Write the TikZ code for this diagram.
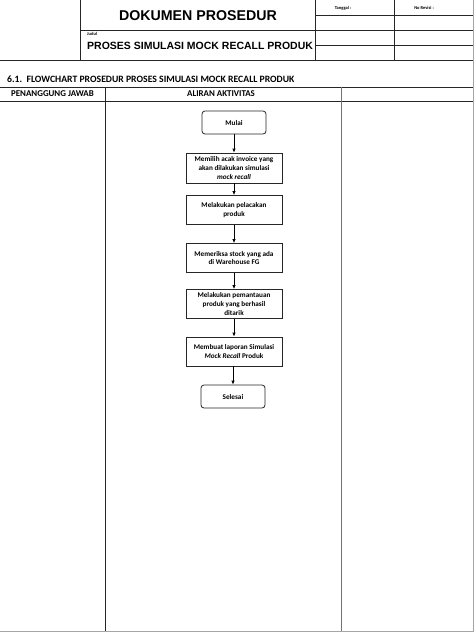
\documentclass[tikz,border=0pt]{standalone}
\usepackage{fontspec}
\setmainfont{Carlito}[BoldFont={Carlito Bold},ItalicFont={Carlito Italic},BoldItalicFont={Carlito Bold Italic}]
\newfontfamily\arialf{Liberation Sans}[BoldFont={Liberation Sans Bold}]
\usetikzlibrary{arrows.meta}
\begin{document}
\begin{tikzpicture}[x=1pt,y=-1pt,
  grid/.style={draw=black!85,line width=0.8pt},
  lightgrid/.style={draw=black!35,line width=1pt},
  proc/.style={draw=black!85,line width=0.8pt,minimum width=96pt,minimum height=29pt,align=center,font=\fontsize{7.2}{8.8}\selectfont\bfseries,inner sep=1pt},
  term/.style={draw=black!85,line width=0.8pt,rounded corners=3pt,minimum width=64pt,minimum height=23pt,align=center,font=\fontsize{7.2}{8}\selectfont\bfseries},
  flow/.style={draw=black,line width=0.8pt,-{Latex[length=4pt,width=3.5pt]}},
  small/.style={font=\fontsize{4.5}{5}\selectfont\bfseries},
  colhead/.style={font=\fontsize{8.9}{10}\selectfont\bfseries}]
\useasboundingbox (0,0) rectangle (474,632);
\fill[white] (0,0) rectangle (474,632);
% header
\draw[grid] (80,0) -- (80,60);
\draw[grid] (315,0) -- (315,60);
\draw[grid] (394,0) -- (394,60);
\draw[grid] (0,60) -- (474,60);
\draw[grid] (80,30) -- (315,30);
\draw[grid] (315,15) -- (474,15);
\draw[grid] (315,30) -- (474,30);
\draw[grid] (315,45) -- (474,45);
\node (t1) at (198,16) {\arialf\fontsize{14.2}{17}\selectfont\bfseries DOKUMEN PROSEDUR};
\node[small,anchor=west,inner sep=0pt] (jd) at (87,34) {Judul};
\node[anchor=west,inner sep=0pt] (t2) at (87,46) {\arialf\fontsize{10.5}{13}\selectfont\bfseries PROSES SIMULASI MOCK RECALL PRODUK};
\node[small] (tg) at (343,8) {Tanggal :};
\node[small] (nr) at (424,8) {No Revisi :};
% section title
\node[anchor=west,inner sep=0pt,font=\fontsize{9.7}{11}\selectfont\bfseries] (sec) at (7,79) {6.1.\ \ FLOWCHART PROSEDUR PROSES SIMULASI MOCK RECALL PRODUK};
% table
\draw[grid] (0,87) -- (474,87);
\draw[grid] (0,101) -- (474,101);
\draw[grid] (105,87) -- (105,632);
\draw[draw=black!55,line width=0.8pt] (341,87) -- (341,632);
\draw[lightgrid] (473,0) -- (473,632);
\draw[lightgrid] (0,631) -- (474,631);
\node[colhead] (h1) at (52.5,94) {PENANGGUNG JAWAB};
\node[colhead] (h2) at (221,94) {ALIRAN AKTIVITAS};
% flowchart
\node[term] (s) at (234,122.5) {Mulai};
\node[proc,minimum height=30pt] (b1) at (234,168) {Memilih acak invoice yang\\akan dilakukan simulasi\\\itshape mock recall};
\node[proc] (b2) at (234,210) {Melakukan pelacakan\\produk};
\node[proc] (b3) at (234,258) {Memeriksa stock yang ada\\di Warehouse FG};
\node[proc] (b4) at (234,304) {Melakukan pemantauan\\produk yang berhasil\\ditarik};
\node[proc] (b5) at (234,351.5) {Membuat laporan Simulasi\\\textit{Mock Recall} Produk};
\node[term] (e) at (233,396.5) {Selesai};
\draw[flow] (s) -- (b1);
\draw[flow] (b1) -- (b2);
\draw[flow] (b2) -- (b3);
\draw[flow] (b3) -- (b4);
\draw[flow] (b4) -- (b5);
\draw[flow] (b5.south -| e.north) -- (e);
\end{tikzpicture}
\end{document}
